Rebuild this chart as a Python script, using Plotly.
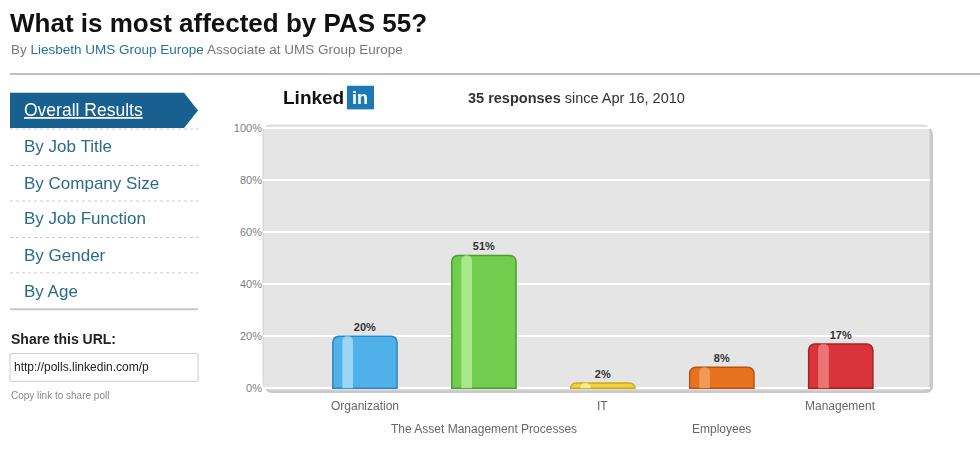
import plotly.graph_objects as go

categories = ["Organization", "The Asset Management Processes", "IT", "Employees", "Management"]
values = [20, 51, 2, 8, 17]
value_labels = ["20%", "51%", "2%", "8%", "17%"]
bar_colors = ["#4fb0ea", "#72cc4e", "#f2d23c", "#e8731f", "#d8343a"]
bar_lines = ["#2e86c4", "#4a9e2c", "#c9a91c", "#b8520e", "#a81f25"]
highlight_colors = ["#b5e3fb", "#bdf0a2", "#fff3a8", "#f5a66a", "#f58a8a"]
label_rows = [0, 1, 0, 1, 0]
y_ticks = [0, 20, 40, 60, 80, 100]
y_tick_text = ["0%", "20%", "40%", "60%", "80%", "100%"]
nav_items = ["By Job Title", "By Company Size", "By Job Function", "By Gender", "By Age"]

W, H = 980, 470
def px(x): return x / W
def py(y): return 1 - y / H

FONT = "Liberation Sans, Arial, sans-serif"

fig = go.Figure()
xs = list(range(len(categories)))
fig.add_trace(go.Bar(
    x=xs, y=values, width=0.54, text=value_labels,
    marker=dict(color=bar_colors, line=dict(color=bar_lines, width=1.5)),
    texttemplate="%{text}", textposition="outside",
    textfont=dict(family=FONT, size=11, color="#333333", weight="bold"),
    cliponaxis=False, hoverinfo="skip",
))
fig.add_trace(go.Bar(
    x=xs, y=values, width=0.09, offset=-0.19,
    marker=dict(color=highlight_colors, line=dict(width=0)), opacity=0.75,
    hoverinfo="skip",
))

# chart frame
x0, x1, y0, y1 = 263, 930, 124, 393
r = 8
def rrect(a, b, c, d, rad):
    return (f"M {px(a+rad)} {py(c)} L {px(b-rad)} {py(c)} Q {px(b)} {py(c)} {px(b)} {py(c+rad)} "
            f"L {px(b)} {py(d-rad)} Q {px(b)} {py(d)} {px(b-rad)} {py(d)} "
            f"L {px(a+rad)} {py(d)} Q {px(a)} {py(d)} {px(a)} {py(d-rad)} "
            f"L {px(a)} {py(c+rad)} Q {px(a)} {py(c)} {px(a+rad)} {py(c)} Z")
shapes = [
    dict(type="path", path=rrect(x0+2, x1+3, y0+2, y1+3, r), xref="paper", yref="paper",
         fillcolor="#c8c8c8", line=dict(width=0), layer="below"),
    dict(type="path", path=rrect(x0, x1, y0, y1, r), xref="paper", yref="paper",
         fillcolor="#e5e5e5", line=dict(color="#d0d0d0", width=1), layer="below"),
    dict(type="line", xref="paper", yref="paper", x0=px(10), x1=px(980), y0=py(72), y1=py(72),
         line=dict(color="#c0c0c0", width=2)),
    dict(type="path", xref="paper", yref="paper",
         path=f"M {px(10)} {py(91)} L {px(184)} {py(91)} L {px(198)} {py(109)} L {px(184)} {py(127)} L {px(10)} {py(127)} Z",
         fillcolor="#17608f", line=dict(width=0)),
    dict(type="rect", xref="paper", yref="paper", x0=px(10), x1=px(198), y0=py(356), y1=py(384),
         fillcolor="white", line=dict(color="#cccccc", width=1)),
    dict(type="rect", xref="paper", yref="paper", x0=px(347), x1=px(374), y0=py(84), y1=py(108),
         fillcolor="#1b7ab3", line=dict(width=0)),
]
for yy in [128, 165, 201, 238, 274]:
    shapes.append(dict(type="line", xref="paper", yref="paper", x0=px(10), x1=px(198),
                       y0=py(yy), y1=py(yy), line=dict(color="#c8c8c8", width=1, dash="dot")))
shapes.append(dict(type="line", xref="paper", yref="paper", x0=px(10), x1=px(198),
                   y0=py(311), y1=py(311), line=dict(color="#c8c8c8", width=2)))

ann = []
def add(text, x, y, size, color, anchor="left", bold=False, xref="paper"):
    ann.append(dict(text=text, x=px(x) if xref == "paper" else x, y=py(y), xref=xref, yref="paper",
                    showarrow=False, xanchor=anchor, yanchor="middle",
                    font=dict(family=FONT, size=size, color=color, weight="bold" if bold else "normal")))

add("What is most affected by PAS 55?", 8, 20, 26, "#111111", bold=True)
add("By <span style='color:#2a7396'>Liesbeth UMS Group Europe</span> Associate at UMS Group Europe",
    9, 47, 13.5, "#777777")
add("<u>Overall Results</u>", 22, 109, 17.5, "#ffffff")
nav_y = [146, 183, 219, 256, 293]
for t, yy in zip(nav_items, nav_y):
    add(t, 22, yy, 17, "#2a6a8c")
add("Share this URL:", 9, 341, 14, "#222222", bold=True)
add("http://polls.linkedin.com/p", 12, 370, 12, "#222222")
add("Copy link to share poll", 9, 398, 10, "#888888")
add("Linked", 281, 96, 19, "#111111", bold=True)
add("in", 360, 96, 18, "#ffffff", anchor="center", bold=True)
add("<b>35 responses</b> since Apr 16, 2010", 466, 96, 14.5, "#333333")

for xi, cat, row in zip(xs, categories, label_rows):
    add(cat, xi, 409 if row == 0 else 432, 12, "#666666", anchor="center", xref="x")

fig.update_layout(
    width=W, height=H, margin=dict(l=0, r=0, t=0, b=0),
    paper_bgcolor="white", plot_bgcolor="rgba(0,0,0,0)",
    barmode="overlay", barcornerradius=6, showlegend=False,
    shapes=shapes, annotations=ann,
    xaxis=dict(domain=[px(x0), px(x1)], range=[-0.857, 4.75], tickmode="array",
               tickvals=xs, showticklabels=False, showgrid=False, zeroline=False,
               showline=False, ticks=""),
    yaxis=dict(domain=[py(y1), py(y0)], range=[-0.76, 101.1], tickmode="array",
               tickvals=y_ticks, ticktext=y_tick_text, showgrid=True, gridcolor="#ffffff",
               gridwidth=2, zeroline=False, showline=False,
               tickfont=dict(family=FONT, size=11, color="#808080")),
)

fig.write_html("out.html")
